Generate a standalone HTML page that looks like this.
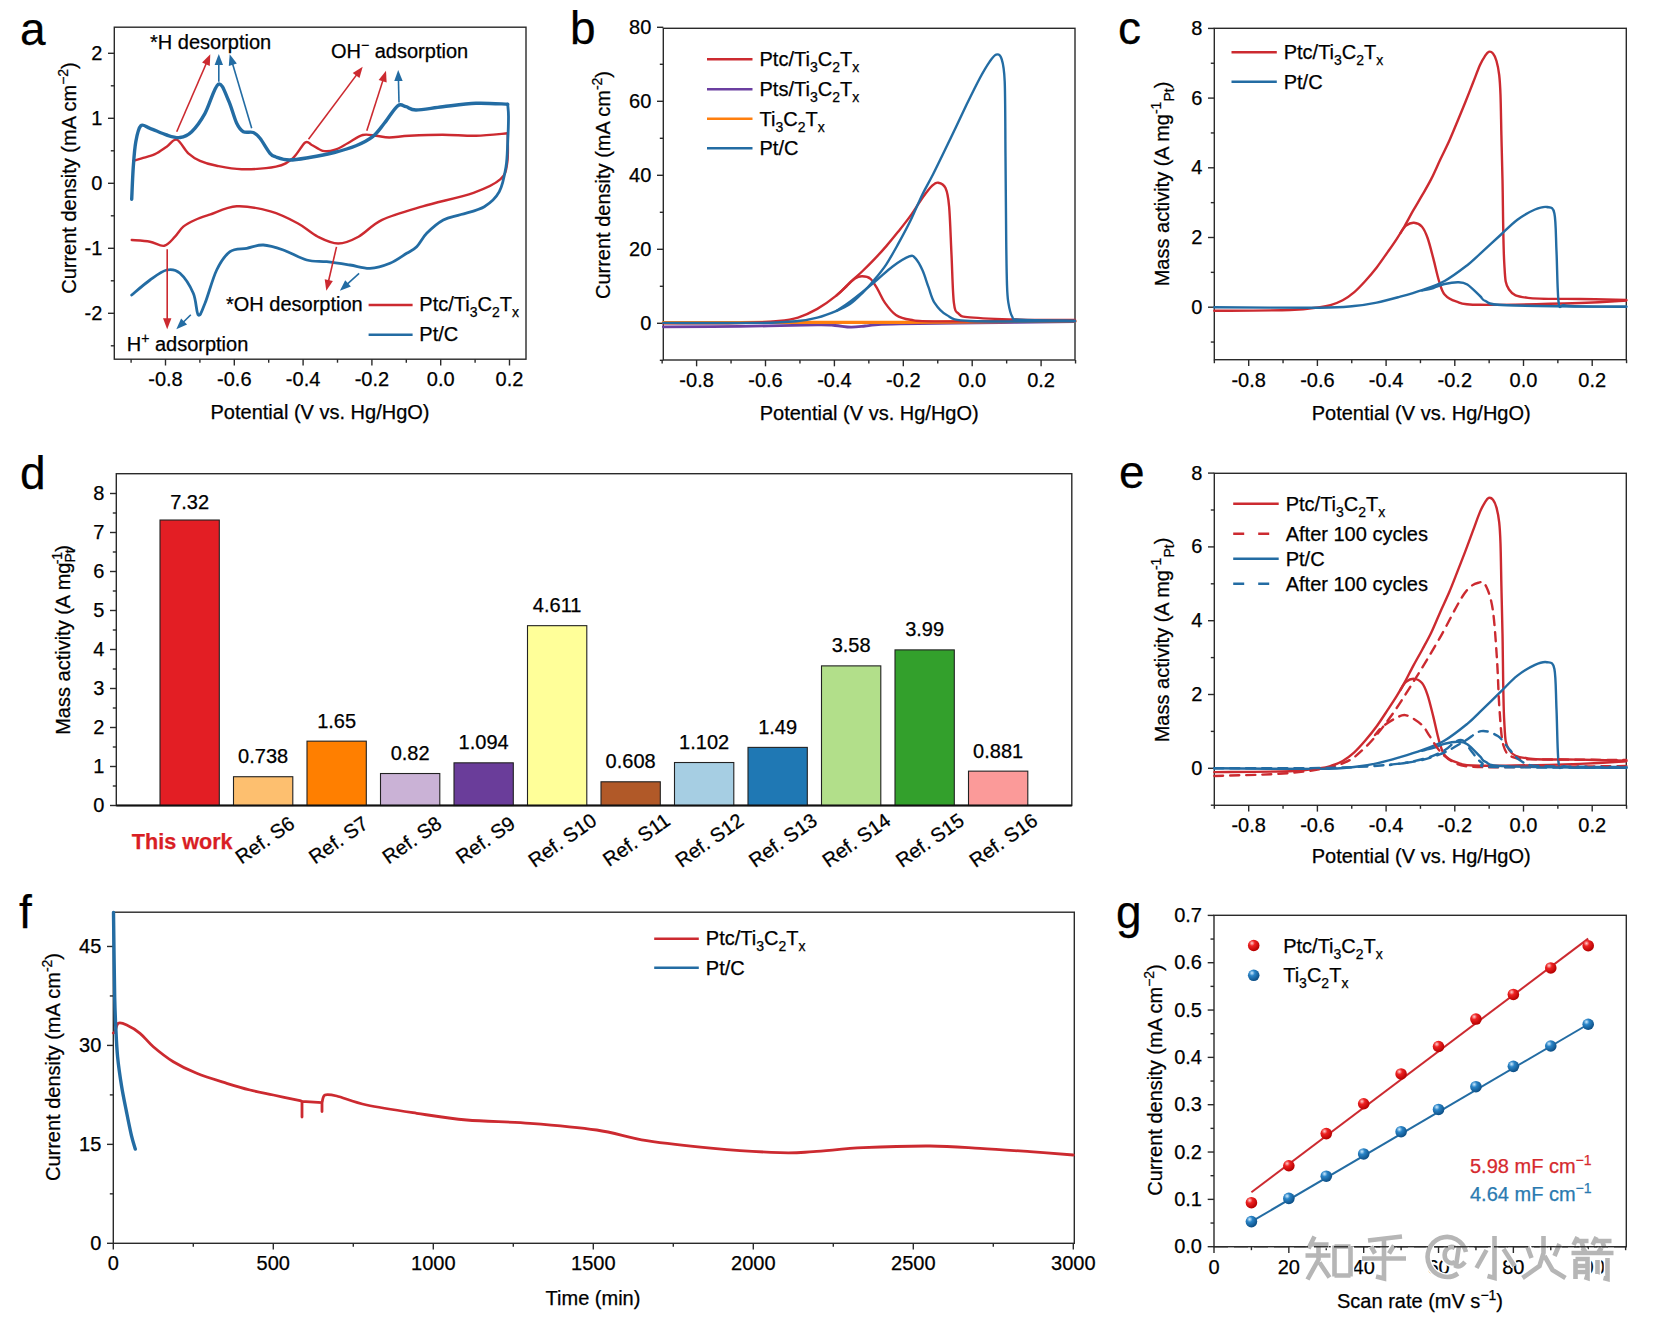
<!DOCTYPE html><html><head><meta charset="utf-8"><style>html,body{margin:0;padding:0;background:#fff;width:1656px;height:1324px;overflow:hidden}svg{display:block;font-family:'Liberation Sans', sans-serif}</style></head><body><svg width="1656" height="1324" viewBox="0 0 1656 1324"><text x="20" y="45" font-size="46" text-anchor="start" fill="#000" stroke="#000" stroke-width="0.25">a</text>
<rect x="114.3" y="27.2" width="411.7" height="332" fill="none" stroke="#2a2a2a" stroke-width="1.4"/>
<line x1="108" y1="53.3" x2="114.3" y2="53.3" stroke="#2a2a2a" stroke-width="1.4" />
<text x="102.3" y="59.8" font-size="20" text-anchor="end" fill="#000" stroke="#000" stroke-width="0.25">2</text>
<line x1="108" y1="118.3" x2="114.3" y2="118.3" stroke="#2a2a2a" stroke-width="1.4" />
<text x="102.3" y="124.8" font-size="20" text-anchor="end" fill="#000" stroke="#000" stroke-width="0.25">1</text>
<line x1="108" y1="183.3" x2="114.3" y2="183.3" stroke="#2a2a2a" stroke-width="1.4" />
<text x="102.3" y="189.8" font-size="20" text-anchor="end" fill="#000" stroke="#000" stroke-width="0.25">0</text>
<line x1="108" y1="248.3" x2="114.3" y2="248.3" stroke="#2a2a2a" stroke-width="1.4" />
<text x="102.3" y="254.8" font-size="20" text-anchor="end" fill="#000" stroke="#000" stroke-width="0.25">-1</text>
<line x1="108" y1="313.3" x2="114.3" y2="313.3" stroke="#2a2a2a" stroke-width="1.4" />
<text x="102.3" y="319.8" font-size="20" text-anchor="end" fill="#000" stroke="#000" stroke-width="0.25">-2</text>
<line x1="110.8" y1="85.8" x2="114.3" y2="85.8" stroke="#2a2a2a" stroke-width="1.4" />
<line x1="110.8" y1="150.8" x2="114.3" y2="150.8" stroke="#2a2a2a" stroke-width="1.4" />
<line x1="110.8" y1="215.8" x2="114.3" y2="215.8" stroke="#2a2a2a" stroke-width="1.4" />
<line x1="110.8" y1="280.8" x2="114.3" y2="280.8" stroke="#2a2a2a" stroke-width="1.4" />
<line x1="110.8" y1="345.8" x2="114.3" y2="345.8" stroke="#2a2a2a" stroke-width="1.4" />
<line x1="165.5" y1="359.2" x2="165.5" y2="365.5" stroke="#2a2a2a" stroke-width="1.4" />
<text x="165.5" y="386" font-size="20" text-anchor="middle" fill="#000" stroke="#000" stroke-width="0.25">-0.8</text>
<line x1="234.3" y1="359.2" x2="234.3" y2="365.5" stroke="#2a2a2a" stroke-width="1.4" />
<text x="234.3" y="386" font-size="20" text-anchor="middle" fill="#000" stroke="#000" stroke-width="0.25">-0.6</text>
<line x1="303.1" y1="359.2" x2="303.1" y2="365.5" stroke="#2a2a2a" stroke-width="1.4" />
<text x="303.1" y="386" font-size="20" text-anchor="middle" fill="#000" stroke="#000" stroke-width="0.25">-0.4</text>
<line x1="371.9" y1="359.2" x2="371.9" y2="365.5" stroke="#2a2a2a" stroke-width="1.4" />
<text x="371.9" y="386" font-size="20" text-anchor="middle" fill="#000" stroke="#000" stroke-width="0.25">-0.2</text>
<line x1="440.7" y1="359.2" x2="440.7" y2="365.5" stroke="#2a2a2a" stroke-width="1.4" />
<text x="440.7" y="386" font-size="20" text-anchor="middle" fill="#000" stroke="#000" stroke-width="0.25">0.0</text>
<line x1="509.5" y1="359.2" x2="509.5" y2="365.5" stroke="#2a2a2a" stroke-width="1.4" />
<text x="509.5" y="386" font-size="20" text-anchor="middle" fill="#000" stroke="#000" stroke-width="0.25">0.2</text>
<line x1="131.1" y1="359.2" x2="131.1" y2="362.7" stroke="#2a2a2a" stroke-width="1.4" />
<line x1="199.9" y1="359.2" x2="199.9" y2="362.7" stroke="#2a2a2a" stroke-width="1.4" />
<line x1="268.7" y1="359.2" x2="268.7" y2="362.7" stroke="#2a2a2a" stroke-width="1.4" />
<line x1="337.5" y1="359.2" x2="337.5" y2="362.7" stroke="#2a2a2a" stroke-width="1.4" />
<line x1="406.3" y1="359.2" x2="406.3" y2="362.7" stroke="#2a2a2a" stroke-width="1.4" />
<line x1="475.1" y1="359.2" x2="475.1" y2="362.7" stroke="#2a2a2a" stroke-width="1.4" />
<text x="0" y="0" font-size="20" text-anchor="middle" fill="#000" stroke="#000" stroke-width="0.25" transform="translate(76,178) rotate(-90)">Current density (mA cm<tspan dy="-8" font-size="14">−2</tspan><tspan dy="8">)</tspan></text>
<text x="320" y="419.3" font-size="20" text-anchor="middle" fill="#000" stroke="#000" stroke-width="0.25">Potential (V vs. Hg/HgO)</text>
<text x="150" y="49.2" font-size="20" text-anchor="start" fill="#000" stroke="#000" stroke-width="0.25">*H desorption</text>
<text x="331" y="58.3" font-size="20" text-anchor="start" fill="#000" stroke="#000" stroke-width="0.25">OH<tspan dy="-8" font-size="14">−</tspan><tspan dy="8"> adsorption</tspan></text>
<text x="226" y="311" font-size="20" text-anchor="start" fill="#000" stroke="#000" stroke-width="0.25">*OH desorption</text>
<text x="126.7" y="350.8" font-size="20" text-anchor="start" fill="#000" stroke="#000" stroke-width="0.25">H<tspan dy="-8" font-size="14">+</tspan><tspan dy="8"> adsorption</tspan></text>
<line x1="368.6" y1="305" x2="412.6" y2="305" stroke="#cc2a30" stroke-width="2.6" />
<line x1="368.6" y1="334.8" x2="412.6" y2="334.8" stroke="#236ca3" stroke-width="2.6" />
<text x="419.3" y="311" font-size="20" text-anchor="start" fill="#000" stroke="#000" stroke-width="0.25">Ptc/Ti<tspan dy="6" font-size="14">3</tspan><tspan dy="-6">C</tspan><tspan dy="6" font-size="14">2</tspan><tspan dy="-6">T</tspan><tspan dy="6" font-size="14">x</tspan></text>
<text x="419.3" y="341" font-size="20" text-anchor="start" fill="#000" stroke="#000" stroke-width="0.25">Pt/C</text>
<path d="M133.3 160.8C134.7 160.38 138.08 159.4 141.7 158.3C145.32 157.2 150.83 156.13 155 154.2C159.17 152.27 163.08 149.12 166.7 146.7C170.32 144.28 173.1 138.6 176.7 139.7C180.3 140.8 184.42 149.78 188.3 153.3C192.18 156.82 195.27 158.72 200 160.8C204.73 162.88 209.75 164.4 216.7 165.8C223.65 167.2 231.82 169.05 241.7 169.2C251.58 169.35 267.5 168.52 276 166.7C284.5 164.88 287.83 162.33 292.7 158.3C297.57 154.27 302.02 144.72 305.2 142.5C308.38 140.28 308.88 143.62 311.8 145C314.72 146.38 318.95 149.97 322.7 150.8C326.45 151.63 330.13 151.25 334.3 150C338.47 148.75 342.97 145.8 347.7 143.3C352.43 140.8 357.98 136.25 362.7 135C367.42 133.75 371.57 135.38 376 135.8C380.43 136.22 383.75 137.5 389.3 137.5C394.85 137.5 400.4 136.27 409.3 135.8C418.2 135.33 431.58 134.7 442.7 134.7C453.82 134.7 465.17 136.03 476 135.8C486.83 135.57 502.42 133.72 507.7 133.3" fill="none" stroke="#cc2a30" stroke-width="2.4" stroke-linejoin="round" stroke-linecap="round" />
<path d="M507.7 133.3C507.63 138.13 508.5 154.65 507.3 162.3C506.1 169.95 506.13 174.12 500.5 179.2C494.87 184.28 486.47 188.28 473.5 192.8C460.53 197.32 437.93 201.8 422.7 206.3C407.47 210.8 392.8 214.73 382.1 219.8C371.4 224.87 365.82 232.75 358.5 236.7C351.18 240.65 344.97 243.5 338.2 243.5C331.43 243.5 324.67 240.08 317.9 236.7C311.13 233.32 305.5 227.42 297.6 223.2C289.7 218.98 280.65 214.22 270.5 211.4C260.35 208.58 246.83 205.75 236.7 206.3C226.57 206.85 216.65 212.42 209.7 214.7C202.75 216.98 199.4 218 195 220C190.6 222 186.63 223.92 183.3 226.7C179.97 229.48 178.18 233.52 175 236.7C171.82 239.88 168.37 244.97 164.2 245.8C160.03 246.63 155.42 242.67 150 241.7C144.58 240.73 134.75 240.28 131.7 240" fill="none" stroke="#cc2a30" stroke-width="2.4" stroke-linejoin="round" stroke-linecap="round" />
<path d="M131.7 199.2C131.97 193.78 132.62 176.28 133.3 166.7C133.98 157.12 134.55 148.52 135.8 141.7C137.05 134.88 138.43 128.03 140.8 125.8C143.17 123.57 145.68 126.77 150 128.3C154.32 129.83 161.7 133.47 166.7 135C171.7 136.53 175.83 138.05 180 137.5C184.17 136.95 187.53 135.73 191.7 131.7C195.87 127.67 200.57 121.22 205 113.3C209.43 105.38 214.42 86.42 218.3 84.2C222.18 81.98 225.23 93.48 228.3 100C231.37 106.52 234.2 118.02 236.7 123.3C239.2 128.58 240.53 130.17 243.3 131.7C246.07 133.23 250.52 131.4 253.3 132.5C256.08 133.6 257.22 134.83 260 138.3C262.78 141.77 267.33 150.18 270 153.3C272.67 156.42 272.78 155.88 276 157C279.22 158.12 283.75 159.92 289.3 160C294.85 160.08 301.8 158.75 309.3 157.5C316.8 156.25 326.52 154.45 334.3 152.5C342.08 150.55 349.6 148.43 356 145.8C362.4 143.17 367.98 140.45 372.7 136.7C377.42 132.95 380.13 128.45 384.3 123.3C388.47 118.15 394.08 108.57 397.7 105.8C401.32 103.03 402.95 106 406 106.7C409.05 107.4 409.88 110 416 110C422.12 110 432.7 107.82 442.7 106.7C452.7 105.58 465.17 103.72 476 103.3C486.83 102.88 502.42 104.05 507.7 104.2" fill="none" stroke="#236ca3" stroke-width="3.4" stroke-linejoin="round" stroke-linecap="round" />
<path d="M507.7 104.2C507.83 106.28 508.5 110.4 508.5 116.7C508.5 123 508.12 133.67 507.7 142C507.28 150.33 507.4 158.42 506 166.7C504.6 174.98 502.92 185.03 499.3 191.7C495.68 198.37 490.68 202.9 484.3 206.7C477.92 210.5 467.83 212.28 461 214.5C454.17 216.72 449.02 216.87 443.3 220C437.58 223.13 431.13 228.85 426.7 233.3C422.27 237.75 420.03 243.37 416.7 246.7C413.37 250.03 411.15 250.53 406.7 253.3C402.25 256.07 396.12 260.8 390 263.3C383.88 265.8 376.67 268.02 370 268.3C363.33 268.58 357.22 266.1 350 265C342.78 263.9 333.92 262.53 326.7 261.7C319.48 260.87 313.93 261.95 306.7 260C299.47 258.05 290.53 252.5 283.3 250C276.07 247.5 269.4 245.28 263.3 245C257.2 244.72 252.25 247.18 246.7 248.3C241.15 249.42 235 248.08 230 251.7C225 255.32 220.87 261.4 216.7 270C212.53 278.6 208.07 295.8 205 303.3C201.93 310.8 200.25 316.67 198.3 315C196.35 313.33 196.35 300.25 193.3 293.3C190.25 286.35 184.43 277.18 180 273.3C175.57 269.42 171.7 268.88 166.7 270C161.7 271.12 155.83 275.83 150 280C144.17 284.17 134.75 292.5 131.7 295" fill="none" stroke="#236ca3" stroke-width="2.8" stroke-linejoin="round" stroke-linecap="round" />
<line x1="176.7" y1="131.7" x2="207.24" y2="61.26" stroke="#cc2a30" stroke-width="1.6" />
<path d="M210.3 54.2 L209.78 65.96 L202.07 62.62 Z" fill="#cc2a30"/>
<line x1="218.8" y1="81.7" x2="218.8" y2="61.7" stroke="#236ca3" stroke-width="1.6" />
<path d="M218.8 54 L223 65 L214.6 65 Z" fill="#236ca3"/>
<line x1="251.7" y1="128.3" x2="231.89" y2="61.58" stroke="#236ca3" stroke-width="1.6" />
<path d="M229.7 54.2 L236.86 63.55 L228.8 65.94 Z" fill="#236ca3"/>
<line x1="308.5" y1="139.2" x2="358.09" y2="72.87" stroke="#cc2a30" stroke-width="1.6" />
<path d="M362.7 66.7 L359.48 78.02 L352.75 73 Z" fill="#cc2a30"/>
<line x1="366.8" y1="130.8" x2="383.65" y2="78.13" stroke="#cc2a30" stroke-width="1.6" />
<path d="M386 70.8 L386.65 82.56 L378.65 80 Z" fill="#cc2a30"/>
<line x1="399" y1="102.5" x2="398.39" y2="77.7" stroke="#236ca3" stroke-width="1.6" />
<path d="M398.2 70 L402.67 80.89 L394.27 81.1 Z" fill="#236ca3"/>
<line x1="167.2" y1="249.2" x2="167.2" y2="321.5" stroke="#cc2a30" stroke-width="1.6" />
<path d="M167.2 329.2 L163 318.2 L171.4 318.2 Z" fill="#cc2a30"/>
<line x1="190.8" y1="314.7" x2="181.74" y2="323.76" stroke="#236ca3" stroke-width="1.6" />
<path d="M176.3 329.2 L181.11 318.45 L187.05 324.39 Z" fill="#236ca3"/>
<line x1="336.5" y1="246.9" x2="328.04" y2="283.3" stroke="#cc2a30" stroke-width="1.6" />
<path d="M326.3 290.8 L324.7 279.13 L332.88 281.04 Z" fill="#cc2a30"/>
<line x1="359.1" y1="273.3" x2="345.59" y2="285.61" stroke="#236ca3" stroke-width="1.6" />
<path d="M339.9 290.8 L345.2 280.29 L350.86 286.49 Z" fill="#236ca3"/>
<text x="570" y="44" font-size="46" text-anchor="start" fill="#000" stroke="#000" stroke-width="0.25">b</text>
<rect x="663.3" y="28.3" width="411.7" height="331.7" fill="none" stroke="#2a2a2a" stroke-width="1.4"/>
<line x1="657" y1="27.3" x2="663.3" y2="27.3" stroke="#2a2a2a" stroke-width="1.4" />
<text x="651.3" y="33.8" font-size="20" text-anchor="end" fill="#000" stroke="#000" stroke-width="0.25">80</text>
<line x1="657" y1="101.3" x2="663.3" y2="101.3" stroke="#2a2a2a" stroke-width="1.4" />
<text x="651.3" y="107.8" font-size="20" text-anchor="end" fill="#000" stroke="#000" stroke-width="0.25">60</text>
<line x1="657" y1="175.3" x2="663.3" y2="175.3" stroke="#2a2a2a" stroke-width="1.4" />
<text x="651.3" y="181.8" font-size="20" text-anchor="end" fill="#000" stroke="#000" stroke-width="0.25">40</text>
<line x1="657" y1="249.3" x2="663.3" y2="249.3" stroke="#2a2a2a" stroke-width="1.4" />
<text x="651.3" y="255.8" font-size="20" text-anchor="end" fill="#000" stroke="#000" stroke-width="0.25">20</text>
<line x1="657" y1="323.3" x2="663.3" y2="323.3" stroke="#2a2a2a" stroke-width="1.4" />
<text x="651.3" y="329.8" font-size="20" text-anchor="end" fill="#000" stroke="#000" stroke-width="0.25">0</text>
<line x1="659.8" y1="64.3" x2="663.3" y2="64.3" stroke="#2a2a2a" stroke-width="1.4" />
<line x1="659.8" y1="138.3" x2="663.3" y2="138.3" stroke="#2a2a2a" stroke-width="1.4" />
<line x1="659.8" y1="212.3" x2="663.3" y2="212.3" stroke="#2a2a2a" stroke-width="1.4" />
<line x1="659.8" y1="286.3" x2="663.3" y2="286.3" stroke="#2a2a2a" stroke-width="1.4" />
<line x1="659.8" y1="360.3" x2="663.3" y2="360.3" stroke="#2a2a2a" stroke-width="1.4" />
<line x1="696.6" y1="360" x2="696.6" y2="366.3" stroke="#2a2a2a" stroke-width="1.4" />
<text x="696.6" y="386.8" font-size="20" text-anchor="middle" fill="#000" stroke="#000" stroke-width="0.25">-0.8</text>
<line x1="765.5" y1="360" x2="765.5" y2="366.3" stroke="#2a2a2a" stroke-width="1.4" />
<text x="765.5" y="386.8" font-size="20" text-anchor="middle" fill="#000" stroke="#000" stroke-width="0.25">-0.6</text>
<line x1="834.4" y1="360" x2="834.4" y2="366.3" stroke="#2a2a2a" stroke-width="1.4" />
<text x="834.4" y="386.8" font-size="20" text-anchor="middle" fill="#000" stroke="#000" stroke-width="0.25">-0.4</text>
<line x1="903.3" y1="360" x2="903.3" y2="366.3" stroke="#2a2a2a" stroke-width="1.4" />
<text x="903.3" y="386.8" font-size="20" text-anchor="middle" fill="#000" stroke="#000" stroke-width="0.25">-0.2</text>
<line x1="972.2" y1="360" x2="972.2" y2="366.3" stroke="#2a2a2a" stroke-width="1.4" />
<text x="972.2" y="386.8" font-size="20" text-anchor="middle" fill="#000" stroke="#000" stroke-width="0.25">0.0</text>
<line x1="1041.1" y1="360" x2="1041.1" y2="366.3" stroke="#2a2a2a" stroke-width="1.4" />
<text x="1041.1" y="386.8" font-size="20" text-anchor="middle" fill="#000" stroke="#000" stroke-width="0.25">0.2</text>
<line x1="662.15" y1="360" x2="662.15" y2="363.5" stroke="#2a2a2a" stroke-width="1.4" />
<line x1="731.05" y1="360" x2="731.05" y2="363.5" stroke="#2a2a2a" stroke-width="1.4" />
<line x1="799.95" y1="360" x2="799.95" y2="363.5" stroke="#2a2a2a" stroke-width="1.4" />
<line x1="868.85" y1="360" x2="868.85" y2="363.5" stroke="#2a2a2a" stroke-width="1.4" />
<line x1="937.75" y1="360" x2="937.75" y2="363.5" stroke="#2a2a2a" stroke-width="1.4" />
<line x1="1006.65" y1="360" x2="1006.65" y2="363.5" stroke="#2a2a2a" stroke-width="1.4" />
<line x1="1075.55" y1="360" x2="1075.55" y2="363.5" stroke="#2a2a2a" stroke-width="1.4" />
<text x="0" y="0" font-size="20" text-anchor="middle" fill="#000" stroke="#000" stroke-width="0.25" transform="translate(610,185) rotate(-90)">Current density (mA cm<tspan dy="-8" font-size="14">-2</tspan><tspan dy="8">)</tspan></text>
<text x="869.2" y="420" font-size="20" text-anchor="middle" fill="#000" stroke="#000" stroke-width="0.25">Potential (V vs. Hg/HgO)</text>
<line x1="707" y1="59.2" x2="752.5" y2="59.2" stroke="#cc2a30" stroke-width="2.6" />
<text x="759.5" y="66.2" font-size="20" text-anchor="start" fill="#000" stroke="#000" stroke-width="0.25">Ptc/Ti<tspan dy="6" font-size="14">3</tspan><tspan dy="-6">C</tspan><tspan dy="6" font-size="14">2</tspan><tspan dy="-6">T</tspan><tspan dy="6" font-size="14">x</tspan></text>
<line x1="707" y1="89.2" x2="752.5" y2="89.2" stroke="#6b3fa0" stroke-width="2.6" />
<text x="759.5" y="96.2" font-size="20" text-anchor="start" fill="#000" stroke="#000" stroke-width="0.25">Pts/Ti<tspan dy="6" font-size="14">3</tspan><tspan dy="-6">C</tspan><tspan dy="6" font-size="14">2</tspan><tspan dy="-6">T</tspan><tspan dy="6" font-size="14">x</tspan></text>
<line x1="707" y1="118.8" x2="752.5" y2="118.8" stroke="#ff7f0e" stroke-width="2.6" />
<text x="759.5" y="125.8" font-size="20" text-anchor="start" fill="#000" stroke="#000" stroke-width="0.25">Ti<tspan dy="6" font-size="14">3</tspan><tspan dy="-6">C</tspan><tspan dy="6" font-size="14">2</tspan><tspan dy="-6">T</tspan><tspan dy="6" font-size="14">x</tspan></text>
<line x1="707" y1="148.3" x2="752.5" y2="148.3" stroke="#236ca3" stroke-width="2.6" />
<text x="759.5" y="155.3" font-size="20" text-anchor="start" fill="#000" stroke="#000" stroke-width="0.25">Pt/C</text>
<path d="M663.3 326.8C676.08 326.73 714.33 326.73 740 326.4C765.67 326.07 801.47 324.95 817.3 324.8C833.13 324.65 829.38 325.1 835 325.5C840.62 325.9 846 327.12 851 327.2C856 327.28 860.95 326.4 865 326C869.05 325.6 869.47 325.15 875.3 324.8C881.13 324.45 879.22 324.28 900 323.9C920.78 323.52 970.83 322.9 1000 322.5C1029.17 322.1 1062.5 321.67 1075 321.5" fill="none" stroke="#6b3fa0" stroke-width="2.8" stroke-linejoin="round" stroke-linecap="round" />
<path d="M663.3 322.6C686.08 322.57 760.55 322.45 800 322.4C839.45 322.35 866.67 322.43 900 322.3C933.33 322.17 970.83 321.82 1000 321.6C1029.17 321.38 1062.5 321.1 1075 321" fill="none" stroke="#ff7f0e" stroke-width="3.2" stroke-linejoin="round" stroke-linecap="round" />
<path d="M663.3 323.3C676.08 323.27 720.78 323.48 740 323.1C759.22 322.72 768.93 321.92 778.6 321C788.27 320.08 791.55 319.62 798 317.6C804.45 315.58 810.87 312.6 817.3 308.9C823.73 305.2 831.15 299.82 836.6 295.4C842.05 290.98 845.75 286.38 850 282.4C854.25 278.42 858.07 275.33 862.1 271.5C866.13 267.67 870.17 263.63 874.2 259.4C878.23 255.17 882.28 250.73 886.3 246.1C890.32 241.47 894.28 236.63 898.3 231.6C902.32 226.57 906.37 221.53 910.4 215.9C914.43 210.27 918.87 202.83 922.5 197.8C926.13 192.77 929.58 188.22 932.2 185.7C934.82 183.18 935.98 182.3 938.2 182.7C940.42 183.1 943.68 184.17 945.5 188.1C947.32 192.03 948.1 195.22 949.1 206.3C950.1 217.38 950.7 238.5 951.5 254.6C952.3 270.7 952.68 293.03 953.9 302.9C955.12 312.77 956.12 311.38 958.8 313.8C961.48 316.22 959.8 316.43 970 317.4C980.2 318.37 1002.5 319.17 1020 319.6C1037.5 320.03 1065.83 319.93 1075 320" fill="none" stroke="#cc2a30" stroke-width="2.4" stroke-linejoin="round" stroke-linecap="round" />
<path d="M1075 321C1052.38 321.07 966.73 321.6 939.3 321.4C911.87 321.2 917.63 320.87 910.4 319.8C903.17 318.73 900.13 317.82 895.9 315C891.67 312.18 888.02 307.13 885 302.9C881.98 298.67 880.22 293.62 877.8 289.6C875.38 285.58 873.12 281.02 870.5 278.8C867.88 276.58 864.68 276.35 862.1 276.3C859.52 276.25 857.63 276.8 855 278.5C852.37 280.2 849.37 283.68 846.3 286.5C843.23 289.32 838.22 293.92 836.6 295.4" fill="none" stroke="#cc2a30" stroke-width="2.4" stroke-linejoin="round" stroke-linecap="round" />
<path d="M663.3 322.9C679.42 322.9 737.55 323.22 760 322.9C782.45 322.58 788.45 321.88 798 321C807.55 320.12 810.87 319.3 817.3 317.6C823.73 315.9 831.15 313.05 836.6 310.8C842.05 308.55 845.75 307.02 850 304.1C854.25 301.18 858.07 297.32 862.1 293.3C866.13 289.28 870.17 284.83 874.2 280C878.23 275.17 882.28 270.35 886.3 264.3C890.32 258.25 894.28 250.95 898.3 243.7C902.32 236.45 906.37 229.05 910.4 220.8C914.43 212.55 918.7 202 922.5 194.2C926.3 186.4 928.63 183.08 933.2 174C937.77 164.92 944.35 151.23 949.9 139.7C955.45 128.17 961.52 115.05 966.5 104.8C971.48 94.55 975.93 85.4 979.8 78.2C983.67 71 986.98 65.53 989.7 61.6C992.42 57.67 994.15 55.15 996.1 54.6C998.05 54.05 999.97 53.82 1001.4 58.3C1002.83 62.78 1004.02 65.17 1004.7 81.5C1005.38 97.83 1005.25 129.88 1005.5 156.3C1005.75 182.72 1005.95 218.55 1006.2 240C1006.45 261.45 1006.65 274.6 1007 285C1007.35 295.4 1007.43 297.13 1008.3 302.4C1009.17 307.67 1010.25 313.7 1012.2 316.6C1014.15 319.5 1009.53 319.13 1020 319.8C1030.47 320.47 1065.83 320.47 1075 320.6" fill="none" stroke="#236ca3" stroke-width="2.4" stroke-linejoin="round" stroke-linecap="round" />
<path d="M1075 321.2C1057.5 321.17 991.38 322.03 970 321C948.62 319.97 952.6 318.02 946.7 315C940.8 311.98 937.63 307.53 934.6 302.9C931.57 298.27 930.52 292.63 928.5 287.2C926.48 281.77 924.7 275.13 922.5 270.3C920.3 265.47 917.52 260.52 915.3 258.2C913.08 255.88 913.03 254.98 909.2 256.4C905.37 257.82 898.13 262.37 892.3 266.7C886.47 271.03 881.25 276.57 874.2 282.4C867.15 288.23 856.27 296.97 850 301.7C843.73 306.43 838.83 309.28 836.6 310.8" fill="none" stroke="#236ca3" stroke-width="2.4" stroke-linejoin="round" stroke-linecap="round" />
<text x="1118" y="44" font-size="46" text-anchor="start" fill="#000" stroke="#000" stroke-width="0.25">c</text>
<rect x="1214.3" y="28.3" width="412" height="331.4" fill="none" stroke="#2a2a2a" stroke-width="1.4"/>
<line x1="1208" y1="28.4" x2="1214.3" y2="28.4" stroke="#2a2a2a" stroke-width="1.4" />
<text x="1202.3" y="34.9" font-size="20" text-anchor="end" fill="#000" stroke="#000" stroke-width="0.25">8</text>
<line x1="1208" y1="98.1" x2="1214.3" y2="98.1" stroke="#2a2a2a" stroke-width="1.4" />
<text x="1202.3" y="104.6" font-size="20" text-anchor="end" fill="#000" stroke="#000" stroke-width="0.25">6</text>
<line x1="1208" y1="167.8" x2="1214.3" y2="167.8" stroke="#2a2a2a" stroke-width="1.4" />
<text x="1202.3" y="174.3" font-size="20" text-anchor="end" fill="#000" stroke="#000" stroke-width="0.25">4</text>
<line x1="1208" y1="237.5" x2="1214.3" y2="237.5" stroke="#2a2a2a" stroke-width="1.4" />
<text x="1202.3" y="244" font-size="20" text-anchor="end" fill="#000" stroke="#000" stroke-width="0.25">2</text>
<line x1="1208" y1="307.2" x2="1214.3" y2="307.2" stroke="#2a2a2a" stroke-width="1.4" />
<text x="1202.3" y="313.7" font-size="20" text-anchor="end" fill="#000" stroke="#000" stroke-width="0.25">0</text>
<line x1="1210.8" y1="63.25" x2="1214.3" y2="63.25" stroke="#2a2a2a" stroke-width="1.4" />
<line x1="1210.8" y1="132.95" x2="1214.3" y2="132.95" stroke="#2a2a2a" stroke-width="1.4" />
<line x1="1210.8" y1="202.65" x2="1214.3" y2="202.65" stroke="#2a2a2a" stroke-width="1.4" />
<line x1="1210.8" y1="272.35" x2="1214.3" y2="272.35" stroke="#2a2a2a" stroke-width="1.4" />
<line x1="1210.8" y1="342.05" x2="1214.3" y2="342.05" stroke="#2a2a2a" stroke-width="1.4" />
<line x1="1248.7" y1="359.7" x2="1248.7" y2="366" stroke="#2a2a2a" stroke-width="1.4" />
<text x="1248.7" y="386.5" font-size="20" text-anchor="middle" fill="#000" stroke="#000" stroke-width="0.25">-0.8</text>
<line x1="1317.4" y1="359.7" x2="1317.4" y2="366" stroke="#2a2a2a" stroke-width="1.4" />
<text x="1317.4" y="386.5" font-size="20" text-anchor="middle" fill="#000" stroke="#000" stroke-width="0.25">-0.6</text>
<line x1="1386.1" y1="359.7" x2="1386.1" y2="366" stroke="#2a2a2a" stroke-width="1.4" />
<text x="1386.1" y="386.5" font-size="20" text-anchor="middle" fill="#000" stroke="#000" stroke-width="0.25">-0.4</text>
<line x1="1454.8" y1="359.7" x2="1454.8" y2="366" stroke="#2a2a2a" stroke-width="1.4" />
<text x="1454.8" y="386.5" font-size="20" text-anchor="middle" fill="#000" stroke="#000" stroke-width="0.25">-0.2</text>
<line x1="1523.5" y1="359.7" x2="1523.5" y2="366" stroke="#2a2a2a" stroke-width="1.4" />
<text x="1523.5" y="386.5" font-size="20" text-anchor="middle" fill="#000" stroke="#000" stroke-width="0.25">0.0</text>
<line x1="1592.2" y1="359.7" x2="1592.2" y2="366" stroke="#2a2a2a" stroke-width="1.4" />
<text x="1592.2" y="386.5" font-size="20" text-anchor="middle" fill="#000" stroke="#000" stroke-width="0.25">0.2</text>
<line x1="1214.35" y1="359.7" x2="1214.35" y2="363.2" stroke="#2a2a2a" stroke-width="1.4" />
<line x1="1283.05" y1="359.7" x2="1283.05" y2="363.2" stroke="#2a2a2a" stroke-width="1.4" />
<line x1="1351.75" y1="359.7" x2="1351.75" y2="363.2" stroke="#2a2a2a" stroke-width="1.4" />
<line x1="1420.45" y1="359.7" x2="1420.45" y2="363.2" stroke="#2a2a2a" stroke-width="1.4" />
<line x1="1489.15" y1="359.7" x2="1489.15" y2="363.2" stroke="#2a2a2a" stroke-width="1.4" />
<line x1="1557.85" y1="359.7" x2="1557.85" y2="363.2" stroke="#2a2a2a" stroke-width="1.4" />
<line x1="1626.55" y1="359.7" x2="1626.55" y2="363.2" stroke="#2a2a2a" stroke-width="1.4" />
<text x="0" y="0" font-size="20" text-anchor="middle" fill="#000" stroke="#000" stroke-width="0.25" transform="translate(1169,184) rotate(-90)">Mass activity (A mg<tspan dy="-8" font-size="14">-1</tspan><tspan dy="13" font-size="14">Pt</tspan><tspan dy="-5">)</tspan></text>
<text x="1421.2" y="420" font-size="20" text-anchor="middle" fill="#000" stroke="#000" stroke-width="0.25">Potential (V vs. Hg/HgO)</text>
<line x1="1231.5" y1="52.2" x2="1276.8" y2="52.2" stroke="#cc2a30" stroke-width="2.6" />
<text x="1283.7" y="59.2" font-size="20" text-anchor="start" fill="#000" stroke="#000" stroke-width="0.25">Ptc/Ti<tspan dy="6" font-size="14">3</tspan><tspan dy="-6">C</tspan><tspan dy="6" font-size="14">2</tspan><tspan dy="-6">T</tspan><tspan dy="6" font-size="14">x</tspan></text>
<line x1="1231.5" y1="81.7" x2="1276.8" y2="81.7" stroke="#236ca3" stroke-width="2.6" />
<text x="1283.7" y="88.7" font-size="20" text-anchor="start" fill="#000" stroke="#000" stroke-width="0.25">Pt/C</text>
<path d="M1214.3 310.8C1226.92 310.67 1272.38 310.62 1290 310C1307.62 309.38 1313.12 307.97 1320 307.1C1326.88 306.23 1327.52 305.93 1331.3 304.8C1335.08 303.67 1338.92 302.37 1342.7 300.3C1346.48 298.23 1350.23 295.62 1354 292.4C1357.77 289.18 1361.52 285.15 1365.3 281C1369.08 276.85 1372.92 272.4 1376.7 267.5C1380.48 262.6 1384.65 256.38 1388 251.6C1391.35 246.82 1394.12 242.9 1396.8 238.8C1399.48 234.7 1401.38 231.68 1404.1 227C1406.82 222.32 1410.08 216 1413.1 210.7C1416.12 205.4 1419.17 200.5 1422.2 195.2C1425.23 189.9 1428.28 184.85 1431.3 178.9C1434.32 172.95 1437.28 165.9 1440.3 159.5C1443.32 153.1 1446.52 146.92 1449.4 140.5C1452.28 134.08 1455 127.25 1457.6 121C1460.2 114.75 1462.45 109.33 1465 103C1467.55 96.67 1470.4 89.33 1472.9 83C1475.4 76.67 1477.98 69.5 1480 65C1482.02 60.5 1483.55 58.2 1485 56C1486.45 53.8 1487.37 52.22 1488.7 51.8C1490.03 51.38 1491.7 51.97 1493 53.5C1494.3 55.03 1495.47 57.42 1496.5 61C1497.53 64.58 1498.53 69.33 1499.2 75C1499.87 80.67 1500.13 84.98 1500.5 95C1500.87 105.02 1501.07 120.93 1501.4 135.1C1501.73 149.27 1502.03 158.85 1502.5 180C1502.97 201.15 1503.12 243.75 1504.2 262C1505.28 280.25 1505.03 283.52 1509 289.5C1512.97 295.48 1516.17 296.32 1528 297.9C1539.83 299.48 1563.62 298.65 1580 299C1596.38 299.35 1618.58 299.83 1626.3 300" fill="none" stroke="#cc2a30" stroke-width="2.4" stroke-linejoin="round" stroke-linecap="round" />
<path d="M1626.3 300.5C1618.58 300.92 1604.38 302.28 1580 303C1555.62 303.72 1500.67 305.07 1480 304.8C1459.33 304.53 1461.9 303.1 1456 301.4C1450.1 299.7 1447.43 298 1444.6 294.6C1441.77 291.2 1440.88 287.03 1439 281C1437.12 274.97 1435.2 265.57 1433.3 258.4C1431.4 251.23 1429.48 243.28 1427.6 238C1425.72 232.72 1424.27 229.25 1422 226.7C1419.73 224.15 1416.65 222.9 1414 222.7C1411.35 222.5 1408.35 223.78 1406.1 225.5C1403.85 227.22 1401.43 231.75 1400.5 233" fill="none" stroke="#cc2a30" stroke-width="2.4" stroke-linejoin="round" stroke-linecap="round" />
<path d="M1214.3 307.2C1231.92 307.28 1296.72 307.9 1320 307.7C1343.28 307.5 1344.55 306.85 1354 306C1363.45 305.15 1369.15 304.12 1376.7 302.6C1384.25 301.08 1391.75 298.98 1399.3 296.9C1406.85 294.82 1414.45 292.75 1422 290.1C1429.55 287.45 1437.05 285.15 1444.6 281C1452.15 276.85 1461.4 269.72 1467.3 265.2C1473.2 260.68 1474.55 258.85 1480 253.9C1485.45 248.95 1493.77 241.2 1500 235.5C1506.23 229.8 1511.57 224.03 1517.4 219.7C1523.23 215.37 1530.07 211.62 1535 209.5C1539.93 207.38 1543.77 206.35 1547 207C1550.23 207.65 1552.82 206 1554.4 213.4C1555.98 220.8 1555.8 236.6 1556.5 251.4C1557.2 266.2 1557.37 293.22 1558.6 302.2C1559.83 311.18 1560.33 304.6 1563.9 305.3C1567.47 306 1569.6 306.18 1580 306.4C1590.4 306.62 1618.58 306.57 1626.3 306.6" fill="none" stroke="#236ca3" stroke-width="2.4" stroke-linejoin="round" stroke-linecap="round" />
<path d="M1626.3 306.8C1606.38 306.55 1530.23 306.25 1506.8 305.3C1483.37 304.35 1490.17 302.65 1485.7 301.1C1481.23 299.55 1483.07 298.77 1480 296C1476.93 293.23 1470.93 286.8 1467.3 284.5C1463.67 282.2 1461.98 282.28 1458.2 282.2C1454.42 282.12 1448.75 283.03 1444.6 284C1440.45 284.97 1437.07 286.9 1433.3 288C1429.53 289.1 1423.88 290.17 1422 290.6" fill="none" stroke="#236ca3" stroke-width="2.4" stroke-linejoin="round" stroke-linecap="round" />
<text x="20" y="488.7" font-size="46" text-anchor="start" fill="#000" stroke="#000" stroke-width="0.25">d</text>
<rect x="116.3" y="473.7" width="955.5" height="331.8" fill="none" stroke="#2a2a2a" stroke-width="1.4"/>
<line x1="110" y1="805.5" x2="116.3" y2="805.5" stroke="#2a2a2a" stroke-width="1.4" />
<text x="104.3" y="812" font-size="20" text-anchor="end" fill="#000" stroke="#000" stroke-width="0.25">0</text>
<line x1="110" y1="766.5" x2="116.3" y2="766.5" stroke="#2a2a2a" stroke-width="1.4" />
<text x="104.3" y="773" font-size="20" text-anchor="end" fill="#000" stroke="#000" stroke-width="0.25">1</text>
<line x1="110" y1="727.5" x2="116.3" y2="727.5" stroke="#2a2a2a" stroke-width="1.4" />
<text x="104.3" y="734" font-size="20" text-anchor="end" fill="#000" stroke="#000" stroke-width="0.25">2</text>
<line x1="110" y1="688.5" x2="116.3" y2="688.5" stroke="#2a2a2a" stroke-width="1.4" />
<text x="104.3" y="695" font-size="20" text-anchor="end" fill="#000" stroke="#000" stroke-width="0.25">3</text>
<line x1="110" y1="649.5" x2="116.3" y2="649.5" stroke="#2a2a2a" stroke-width="1.4" />
<text x="104.3" y="656" font-size="20" text-anchor="end" fill="#000" stroke="#000" stroke-width="0.25">4</text>
<line x1="110" y1="610.5" x2="116.3" y2="610.5" stroke="#2a2a2a" stroke-width="1.4" />
<text x="104.3" y="617" font-size="20" text-anchor="end" fill="#000" stroke="#000" stroke-width="0.25">5</text>
<line x1="110" y1="571.5" x2="116.3" y2="571.5" stroke="#2a2a2a" stroke-width="1.4" />
<text x="104.3" y="578" font-size="20" text-anchor="end" fill="#000" stroke="#000" stroke-width="0.25">6</text>
<line x1="110" y1="532.5" x2="116.3" y2="532.5" stroke="#2a2a2a" stroke-width="1.4" />
<text x="104.3" y="539" font-size="20" text-anchor="end" fill="#000" stroke="#000" stroke-width="0.25">7</text>
<line x1="110" y1="493.5" x2="116.3" y2="493.5" stroke="#2a2a2a" stroke-width="1.4" />
<text x="104.3" y="500" font-size="20" text-anchor="end" fill="#000" stroke="#000" stroke-width="0.25">8</text>
<line x1="112.8" y1="786" x2="116.3" y2="786" stroke="#2a2a2a" stroke-width="1.4" />
<line x1="112.8" y1="747" x2="116.3" y2="747" stroke="#2a2a2a" stroke-width="1.4" />
<line x1="112.8" y1="708" x2="116.3" y2="708" stroke="#2a2a2a" stroke-width="1.4" />
<line x1="112.8" y1="669" x2="116.3" y2="669" stroke="#2a2a2a" stroke-width="1.4" />
<line x1="112.8" y1="630" x2="116.3" y2="630" stroke="#2a2a2a" stroke-width="1.4" />
<line x1="112.8" y1="591" x2="116.3" y2="591" stroke="#2a2a2a" stroke-width="1.4" />
<line x1="112.8" y1="552" x2="116.3" y2="552" stroke="#2a2a2a" stroke-width="1.4" />
<line x1="112.8" y1="513" x2="116.3" y2="513" stroke="#2a2a2a" stroke-width="1.4" />
<text x="0" y="0" font-size="20" text-anchor="middle" fill="#000" stroke="#000" stroke-width="0.25" transform="translate(69.5,640) rotate(-90)">Mass activity (A mg<tspan dy="5" font-size="14">Pt</tspan><tspan dy="-13" dx="-15" font-size="14">-1</tspan><tspan dy="8">)</tspan></text>
<rect x="160" y="520.02" width="59.3" height="285.48" fill="#e31e24" stroke="#222" stroke-width="1.1"/>
<text x="189.65" y="509.02" font-size="20" text-anchor="middle" fill="#000" stroke="#000" stroke-width="0.25">7.32</text>
<text x="182.2" y="848.5" font-size="21.6" text-anchor="middle" fill="#d91e24" stroke="#d91e24" stroke-width="0.25" font-weight="bold">This work</text>
<rect x="233.5" y="776.72" width="59.3" height="28.78" fill="#fdbf6f" stroke="#222" stroke-width="1.1"/>
<text x="263.15" y="763.22" font-size="20" text-anchor="middle" fill="#000" stroke="#000" stroke-width="0.25">0.738</text>
<text x="0" y="0" font-size="20" text-anchor="end" fill="#000" stroke="#000" stroke-width="0.25" transform="translate(296.15,826.5) rotate(-35)">Ref. S6</text>
<rect x="307" y="741.15" width="59.3" height="64.35" fill="#ff7f00" stroke="#222" stroke-width="1.1"/>
<text x="336.65" y="727.65" font-size="20" text-anchor="middle" fill="#000" stroke="#000" stroke-width="0.25">1.65</text>
<text x="0" y="0" font-size="20" text-anchor="end" fill="#000" stroke="#000" stroke-width="0.25" transform="translate(369.65,826.5) rotate(-35)">Ref. S7</text>
<rect x="380.5" y="773.52" width="59.3" height="31.98" fill="#cab2d6" stroke="#222" stroke-width="1.1"/>
<text x="410.15" y="760.02" font-size="20" text-anchor="middle" fill="#000" stroke="#000" stroke-width="0.25">0.82</text>
<text x="0" y="0" font-size="20" text-anchor="end" fill="#000" stroke="#000" stroke-width="0.25" transform="translate(443.15,826.5) rotate(-35)">Ref. S8</text>
<rect x="454" y="762.83" width="59.3" height="42.67" fill="#6a3d9a" stroke="#222" stroke-width="1.1"/>
<text x="483.65" y="749.33" font-size="20" text-anchor="middle" fill="#000" stroke="#000" stroke-width="0.25">1.094</text>
<text x="0" y="0" font-size="20" text-anchor="end" fill="#000" stroke="#000" stroke-width="0.25" transform="translate(516.65,826.5) rotate(-35)">Ref. S9</text>
<rect x="527.5" y="625.67" width="59.3" height="179.83" fill="#ffff99" stroke="#222" stroke-width="1.1"/>
<text x="557.15" y="612.17" font-size="20" text-anchor="middle" fill="#000" stroke="#000" stroke-width="0.25">4.611</text>
<text x="0" y="0" font-size="20" text-anchor="end" fill="#000" stroke="#000" stroke-width="0.25" transform="translate(598.15,823.5) rotate(-35)">Ref. S10</text>
<rect x="601" y="781.79" width="59.3" height="23.71" fill="#b15928" stroke="#222" stroke-width="1.1"/>
<text x="630.65" y="768.29" font-size="20" text-anchor="middle" fill="#000" stroke="#000" stroke-width="0.25">0.608</text>
<text x="0" y="0" font-size="20" text-anchor="end" fill="#000" stroke="#000" stroke-width="0.25" transform="translate(671.65,823.5) rotate(-35)">Ref. S11</text>
<rect x="674.5" y="762.52" width="59.3" height="42.98" fill="#a6cee3" stroke="#222" stroke-width="1.1"/>
<text x="704.15" y="749.02" font-size="20" text-anchor="middle" fill="#000" stroke="#000" stroke-width="0.25">1.102</text>
<text x="0" y="0" font-size="20" text-anchor="end" fill="#000" stroke="#000" stroke-width="0.25" transform="translate(745.15,823.5) rotate(-35)">Ref. S12</text>
<rect x="748" y="747.39" width="59.3" height="58.11" fill="#1f78b4" stroke="#222" stroke-width="1.1"/>
<text x="777.65" y="733.89" font-size="20" text-anchor="middle" fill="#000" stroke="#000" stroke-width="0.25">1.49</text>
<text x="0" y="0" font-size="20" text-anchor="end" fill="#000" stroke="#000" stroke-width="0.25" transform="translate(818.65,823.5) rotate(-35)">Ref. S13</text>
<rect x="821.5" y="665.88" width="59.3" height="139.62" fill="#b2df8a" stroke="#222" stroke-width="1.1"/>
<text x="851.15" y="652.38" font-size="20" text-anchor="middle" fill="#000" stroke="#000" stroke-width="0.25">3.58</text>
<text x="0" y="0" font-size="20" text-anchor="end" fill="#000" stroke="#000" stroke-width="0.25" transform="translate(892.15,823.5) rotate(-35)">Ref. S14</text>
<rect x="895" y="649.89" width="59.3" height="155.61" fill="#33a02c" stroke="#222" stroke-width="1.1"/>
<text x="924.65" y="636.39" font-size="20" text-anchor="middle" fill="#000" stroke="#000" stroke-width="0.25">3.99</text>
<text x="0" y="0" font-size="20" text-anchor="end" fill="#000" stroke="#000" stroke-width="0.25" transform="translate(965.65,823.5) rotate(-35)">Ref. S15</text>
<rect x="968.5" y="771.14" width="59.3" height="34.36" fill="#fb9a99" stroke="#222" stroke-width="1.1"/>
<text x="998.15" y="757.64" font-size="20" text-anchor="middle" fill="#000" stroke="#000" stroke-width="0.25">0.881</text>
<text x="0" y="0" font-size="20" text-anchor="end" fill="#000" stroke="#000" stroke-width="0.25" transform="translate(1039.15,823.5) rotate(-35)">Ref. S16</text>
<line x1="116.3" y1="805.5" x2="1071.8" y2="805.5" stroke="#111" stroke-width="2" />
<text x="1119" y="488.3" font-size="46" text-anchor="start" fill="#000" stroke="#000" stroke-width="0.25">e</text>
<rect x="1214.3" y="473.3" width="412" height="332" fill="none" stroke="#2a2a2a" stroke-width="1.4"/>
<line x1="1208" y1="473.1" x2="1214.3" y2="473.1" stroke="#2a2a2a" stroke-width="1.4" />
<text x="1202.3" y="479.6" font-size="20" text-anchor="end" fill="#000" stroke="#000" stroke-width="0.25">8</text>
<line x1="1208" y1="546.9" x2="1214.3" y2="546.9" stroke="#2a2a2a" stroke-width="1.4" />
<text x="1202.3" y="553.4" font-size="20" text-anchor="end" fill="#000" stroke="#000" stroke-width="0.25">6</text>
<line x1="1208" y1="620.7" x2="1214.3" y2="620.7" stroke="#2a2a2a" stroke-width="1.4" />
<text x="1202.3" y="627.2" font-size="20" text-anchor="end" fill="#000" stroke="#000" stroke-width="0.25">4</text>
<line x1="1208" y1="694.5" x2="1214.3" y2="694.5" stroke="#2a2a2a" stroke-width="1.4" />
<text x="1202.3" y="701" font-size="20" text-anchor="end" fill="#000" stroke="#000" stroke-width="0.25">2</text>
<line x1="1208" y1="768.3" x2="1214.3" y2="768.3" stroke="#2a2a2a" stroke-width="1.4" />
<text x="1202.3" y="774.8" font-size="20" text-anchor="end" fill="#000" stroke="#000" stroke-width="0.25">0</text>
<line x1="1210.8" y1="510" x2="1214.3" y2="510" stroke="#2a2a2a" stroke-width="1.4" />
<line x1="1210.8" y1="583.8" x2="1214.3" y2="583.8" stroke="#2a2a2a" stroke-width="1.4" />
<line x1="1210.8" y1="657.6" x2="1214.3" y2="657.6" stroke="#2a2a2a" stroke-width="1.4" />
<line x1="1210.8" y1="731.4" x2="1214.3" y2="731.4" stroke="#2a2a2a" stroke-width="1.4" />
<line x1="1210.8" y1="805.2" x2="1214.3" y2="805.2" stroke="#2a2a2a" stroke-width="1.4" />
<line x1="1248.7" y1="805.3" x2="1248.7" y2="811.6" stroke="#2a2a2a" stroke-width="1.4" />
<text x="1248.7" y="832.1" font-size="20" text-anchor="middle" fill="#000" stroke="#000" stroke-width="0.25">-0.8</text>
<line x1="1317.4" y1="805.3" x2="1317.4" y2="811.6" stroke="#2a2a2a" stroke-width="1.4" />
<text x="1317.4" y="832.1" font-size="20" text-anchor="middle" fill="#000" stroke="#000" stroke-width="0.25">-0.6</text>
<line x1="1386.1" y1="805.3" x2="1386.1" y2="811.6" stroke="#2a2a2a" stroke-width="1.4" />
<text x="1386.1" y="832.1" font-size="20" text-anchor="middle" fill="#000" stroke="#000" stroke-width="0.25">-0.4</text>
<line x1="1454.8" y1="805.3" x2="1454.8" y2="811.6" stroke="#2a2a2a" stroke-width="1.4" />
<text x="1454.8" y="832.1" font-size="20" text-anchor="middle" fill="#000" stroke="#000" stroke-width="0.25">-0.2</text>
<line x1="1523.5" y1="805.3" x2="1523.5" y2="811.6" stroke="#2a2a2a" stroke-width="1.4" />
<text x="1523.5" y="832.1" font-size="20" text-anchor="middle" fill="#000" stroke="#000" stroke-width="0.25">0.0</text>
<line x1="1592.2" y1="805.3" x2="1592.2" y2="811.6" stroke="#2a2a2a" stroke-width="1.4" />
<text x="1592.2" y="832.1" font-size="20" text-anchor="middle" fill="#000" stroke="#000" stroke-width="0.25">0.2</text>
<line x1="1214.35" y1="805.3" x2="1214.35" y2="808.8" stroke="#2a2a2a" stroke-width="1.4" />
<line x1="1283.05" y1="805.3" x2="1283.05" y2="808.8" stroke="#2a2a2a" stroke-width="1.4" />
<line x1="1351.75" y1="805.3" x2="1351.75" y2="808.8" stroke="#2a2a2a" stroke-width="1.4" />
<line x1="1420.45" y1="805.3" x2="1420.45" y2="808.8" stroke="#2a2a2a" stroke-width="1.4" />
<line x1="1489.15" y1="805.3" x2="1489.15" y2="808.8" stroke="#2a2a2a" stroke-width="1.4" />
<line x1="1557.85" y1="805.3" x2="1557.85" y2="808.8" stroke="#2a2a2a" stroke-width="1.4" />
<line x1="1626.55" y1="805.3" x2="1626.55" y2="808.8" stroke="#2a2a2a" stroke-width="1.4" />
<text x="0" y="0" font-size="20" text-anchor="middle" fill="#000" stroke="#000" stroke-width="0.25" transform="translate(1169,640) rotate(-90)">Mass activity (A mg<tspan dy="-8" font-size="14">-1</tspan><tspan dy="13" font-size="14">Pt</tspan><tspan dy="-5">)</tspan></text>
<text x="1421.2" y="863.3" font-size="20" text-anchor="middle" fill="#000" stroke="#000" stroke-width="0.25">Potential (V vs. Hg/HgO)</text>
<line x1="1233.2" y1="503.8" x2="1278.7" y2="503.8" stroke="#cc2a30" stroke-width="2.6" />
<text x="1285.7" y="510.8" font-size="20" text-anchor="start" fill="#000" stroke="#000" stroke-width="0.25">Ptc/Ti<tspan dy="6" font-size="14">3</tspan><tspan dy="-6">C</tspan><tspan dy="6" font-size="14">2</tspan><tspan dy="-6">T</tspan><tspan dy="6" font-size="14">x</tspan></text>
<line x1="1233.2" y1="533.8" x2="1278.7" y2="533.8" stroke="#cc2a30" stroke-width="2.6" stroke-dasharray="11 14"/>
<text x="1285.7" y="540.8" font-size="20" text-anchor="start" fill="#000" stroke="#000" stroke-width="0.25">After 100 cycles</text>
<line x1="1233.2" y1="558.8" x2="1278.7" y2="558.8" stroke="#236ca3" stroke-width="2.6" />
<text x="1285.7" y="565.8" font-size="20" text-anchor="start" fill="#000" stroke="#000" stroke-width="0.25">Pt/C</text>
<line x1="1233.2" y1="583.8" x2="1278.7" y2="583.8" stroke="#236ca3" stroke-width="2.6" stroke-dasharray="11 14"/>
<text x="1285.7" y="590.8" font-size="20" text-anchor="start" fill="#000" stroke="#000" stroke-width="0.25">After 100 cycles</text>
<path d="M1214.3 772.11C1226.92 771.97 1272.38 771.92 1290 771.26C1307.62 770.61 1313.12 769.11 1320 768.19C1326.88 767.28 1327.52 766.96 1331.3 765.76C1335.08 764.56 1338.92 763.18 1342.7 760.99C1346.48 758.81 1350.23 756.04 1354 752.63C1357.77 749.22 1361.52 744.95 1365.3 740.56C1369.08 736.16 1372.92 731.45 1376.7 726.26C1380.48 721.08 1384.65 714.49 1388 709.43C1391.35 704.36 1394.12 700.22 1396.8 695.88C1399.48 691.54 1401.38 688.34 1404.1 683.38C1406.82 678.42 1410.08 671.74 1413.1 666.12C1416.12 660.51 1419.17 655.32 1422.2 649.71C1425.23 644.1 1428.28 638.75 1431.3 632.45C1434.32 626.15 1437.28 618.69 1440.3 611.91C1443.32 605.14 1446.52 598.59 1449.4 591.79C1452.28 585 1455 577.76 1457.6 571.15C1460.2 564.53 1462.45 558.79 1465 552.09C1467.55 545.38 1470.4 537.62 1472.9 530.91C1475.4 524.21 1477.98 516.62 1480 511.85C1482.02 507.09 1483.55 504.65 1485 502.32C1486.45 499.99 1487.37 498.32 1488.7 497.88C1490.03 497.44 1491.7 498.05 1493 499.68C1494.3 501.3 1495.47 503.82 1496.5 507.62C1497.53 511.41 1498.53 516.44 1499.2 522.44C1499.87 528.44 1500.13 533.01 1500.5 543.62C1500.87 554.22 1501.07 571.08 1501.4 586.08C1501.73 601.08 1502.03 611.22 1502.5 633.62C1502.97 656.01 1503.12 701.12 1504.2 720.44C1505.28 739.76 1505.03 743.22 1509 749.56C1512.97 755.89 1516.17 756.78 1528 758.45C1539.83 760.13 1563.62 759.25 1580 759.62C1596.38 759.99 1618.58 760.5 1626.3 760.68" fill="none" stroke="#cc2a30" stroke-width="2.4" stroke-linejoin="round" stroke-linecap="round" />
<path d="M1626.3 761.21C1618.58 761.65 1604.38 763.09 1580 763.85C1555.62 764.61 1500.67 766.04 1480 765.76C1459.33 765.48 1461.9 763.96 1456 762.16C1450.1 760.36 1447.43 758.56 1444.6 754.96C1441.77 751.36 1440.88 746.95 1439 740.56C1437.12 734.17 1435.2 724.22 1433.3 716.63C1431.4 709.04 1429.48 700.62 1427.6 695.03C1425.72 689.44 1424.27 685.76 1422 683.06C1419.73 680.36 1416.65 679.04 1414 678.83C1411.35 678.62 1408.35 679.98 1406.1 681.79C1403.85 683.61 1401.43 688.41 1400.5 689.74" fill="none" stroke="#cc2a30" stroke-width="2.4" stroke-linejoin="round" stroke-linecap="round" />
<path d="M1214.3 768.3C1231.92 768.39 1296.72 769.04 1320 768.83C1343.28 768.62 1344.55 767.93 1354 767.03C1363.45 766.13 1369.15 765.04 1376.7 763.43C1384.25 761.82 1391.75 759.6 1399.3 757.39C1406.85 755.19 1414.45 753 1422 750.19C1429.55 747.39 1437.05 744.95 1444.6 740.56C1452.15 736.16 1461.4 728.61 1467.3 723.83C1473.2 719.05 1474.55 717.11 1480 711.86C1485.45 706.62 1493.77 698.42 1500 692.38C1506.23 686.35 1511.57 680.24 1517.4 675.65C1523.23 671.06 1530.07 667.09 1535 664.85C1539.93 662.61 1543.77 661.52 1547 662.21C1550.23 662.89 1552.82 661.15 1554.4 668.98C1555.98 676.82 1555.8 693.55 1556.5 709.22C1557.2 724.89 1557.37 753.49 1558.6 763.01C1559.83 772.52 1560.33 765.55 1563.9 766.29C1567.47 767.03 1569.6 767.22 1580 767.45C1590.4 767.68 1618.58 767.63 1626.3 767.66" fill="none" stroke="#236ca3" stroke-width="2.4" stroke-linejoin="round" stroke-linecap="round" />
<path d="M1626.3 767.88C1606.38 767.61 1530.23 767.29 1506.8 766.29C1483.37 765.28 1490.17 763.48 1485.7 761.84C1481.23 760.2 1483.07 759.37 1480 756.44C1476.93 753.51 1470.93 746.7 1467.3 744.26C1463.67 741.83 1461.98 741.92 1458.2 741.83C1454.42 741.74 1448.75 742.71 1444.6 743.74C1440.45 744.76 1437.07 746.81 1433.3 747.97C1429.53 749.14 1423.88 750.26 1422 750.72" fill="none" stroke="#236ca3" stroke-width="2.4" stroke-linejoin="round" stroke-linecap="round" />
<path d="M1214.3 776C1226.92 775.5 1269.05 774.95 1290 773C1310.95 771.05 1327.52 768.52 1340 764.3C1352.48 760.08 1356.6 755.45 1364.9 747.7C1373.2 739.95 1381.48 729.15 1389.8 717.8C1398.12 706.45 1406.48 692.88 1414.8 679.6C1423.12 666.32 1431.4 652.5 1439.7 638.1C1448 623.7 1457.97 602.48 1464.6 593.2C1471.23 583.92 1475.9 583.5 1479.5 582.4C1483.1 581.3 1483.98 582.03 1486.2 586.6C1488.42 591.17 1491 597.62 1492.8 609.8C1494.6 621.98 1495.88 643.08 1497 659.7C1498.12 676.32 1498.4 695.12 1499.5 709.5C1500.6 723.88 1501.12 737.97 1503.6 746C1506.08 754.03 1508.33 755.48 1514.4 757.7C1520.47 759.92 1521.35 758.92 1540 759.3C1558.65 759.68 1611.92 759.88 1626.3 760" fill="none" stroke="#cc2a30" stroke-width="2.4" stroke-linejoin="round" stroke-linecap="round" stroke-dasharray="9 7" stroke-linecap="butt"/>
<path d="M1626.3 766C1611.92 766.13 1565.57 766.67 1540 766.8C1514.43 766.93 1487.4 767.63 1472.9 766.8C1458.4 765.97 1458.53 764.43 1453 761.8C1447.47 759.17 1443.58 755.28 1439.7 751C1435.82 746.72 1432.75 740.52 1429.7 736.1C1426.65 731.68 1425.28 727.97 1421.4 724.5C1417.52 721.03 1410.55 716.42 1406.4 715.3C1402.25 714.18 1400.37 716 1396.5 717.8C1392.63 719.6 1386.78 723.23 1383.2 726.1C1379.62 728.97 1376.37 733.52 1375 735" fill="none" stroke="#cc2a30" stroke-width="2.4" stroke-linejoin="round" stroke-linecap="round" stroke-dasharray="9 7" stroke-linecap="butt"/>
<path d="M1214.3 768.3C1235.25 768.18 1307.98 768.53 1340 767.6C1372.02 766.67 1389.78 764.9 1406.4 762.7C1423.02 760.5 1430 758 1439.7 754.4C1449.4 750.8 1457.68 744.98 1464.6 741.1C1471.52 737.22 1475.67 731.93 1481.2 731.1C1486.73 730.27 1493.1 733.05 1497.8 736.1C1502.5 739.15 1505.52 745.25 1509.4 749.4C1513.28 753.55 1516 758.23 1521.1 761C1526.2 763.77 1522.47 765 1540 766C1557.53 767 1611.92 766.83 1626.3 767" fill="none" stroke="#236ca3" stroke-width="2.4" stroke-linejoin="round" stroke-linecap="round" stroke-dasharray="9 7" stroke-linecap="butt"/>
<path d="M1626.3 767.5C1604.42 767.42 1519.05 767.75 1495 767C1470.95 766.25 1485.83 765.5 1482 763C1478.17 760.5 1475.17 755.75 1472 752C1468.83 748.25 1465.83 742.17 1463 740.5C1460.17 738.83 1458 740.42 1455 742C1452 743.58 1449.17 747.5 1445 750C1440.83 752.5 1435.83 755 1430 757C1424.17 759 1416.67 760.67 1410 762C1403.33 763.33 1393.33 764.5 1390 765" fill="none" stroke="#236ca3" stroke-width="2.4" stroke-linejoin="round" stroke-linecap="round" stroke-dasharray="9 7" stroke-linecap="butt"/>
<text x="19" y="928.3" font-size="46" text-anchor="start" fill="#000" stroke="#000" stroke-width="0.25">f</text>
<rect x="113.3" y="912.2" width="961" height="331.1" fill="none" stroke="#2a2a2a" stroke-width="1.4"/>
<line x1="107" y1="946.48" x2="113.3" y2="946.48" stroke="#2a2a2a" stroke-width="1.4" />
<text x="101.3" y="952.98" font-size="20" text-anchor="end" fill="#000" stroke="#000" stroke-width="0.25">45</text>
<line x1="107" y1="1045.42" x2="113.3" y2="1045.42" stroke="#2a2a2a" stroke-width="1.4" />
<text x="101.3" y="1051.92" font-size="20" text-anchor="end" fill="#000" stroke="#000" stroke-width="0.25">30</text>
<line x1="107" y1="1144.36" x2="113.3" y2="1144.36" stroke="#2a2a2a" stroke-width="1.4" />
<text x="101.3" y="1150.86" font-size="20" text-anchor="end" fill="#000" stroke="#000" stroke-width="0.25">15</text>
<line x1="107" y1="1243.3" x2="113.3" y2="1243.3" stroke="#2a2a2a" stroke-width="1.4" />
<text x="101.3" y="1249.8" font-size="20" text-anchor="end" fill="#000" stroke="#000" stroke-width="0.25">0</text>
<line x1="109.8" y1="995.95" x2="113.3" y2="995.95" stroke="#2a2a2a" stroke-width="1.4" />
<line x1="109.8" y1="1094.89" x2="113.3" y2="1094.89" stroke="#2a2a2a" stroke-width="1.4" />
<line x1="109.8" y1="1193.83" x2="113.3" y2="1193.83" stroke="#2a2a2a" stroke-width="1.4" />
<line x1="113.3" y1="1243.3" x2="113.3" y2="1249.6" stroke="#2a2a2a" stroke-width="1.4" />
<text x="113.3" y="1270.1" font-size="20" text-anchor="middle" fill="#000" stroke="#000" stroke-width="0.25">0</text>
<line x1="273.3" y1="1243.3" x2="273.3" y2="1249.6" stroke="#2a2a2a" stroke-width="1.4" />
<text x="273.3" y="1270.1" font-size="20" text-anchor="middle" fill="#000" stroke="#000" stroke-width="0.25">500</text>
<line x1="433.3" y1="1243.3" x2="433.3" y2="1249.6" stroke="#2a2a2a" stroke-width="1.4" />
<text x="433.3" y="1270.1" font-size="20" text-anchor="middle" fill="#000" stroke="#000" stroke-width="0.25">1000</text>
<line x1="593.3" y1="1243.3" x2="593.3" y2="1249.6" stroke="#2a2a2a" stroke-width="1.4" />
<text x="593.3" y="1270.1" font-size="20" text-anchor="middle" fill="#000" stroke="#000" stroke-width="0.25">1500</text>
<line x1="753.3" y1="1243.3" x2="753.3" y2="1249.6" stroke="#2a2a2a" stroke-width="1.4" />
<text x="753.3" y="1270.1" font-size="20" text-anchor="middle" fill="#000" stroke="#000" stroke-width="0.25">2000</text>
<line x1="913.3" y1="1243.3" x2="913.3" y2="1249.6" stroke="#2a2a2a" stroke-width="1.4" />
<text x="913.3" y="1270.1" font-size="20" text-anchor="middle" fill="#000" stroke="#000" stroke-width="0.25">2500</text>
<line x1="1073.3" y1="1243.3" x2="1073.3" y2="1249.6" stroke="#2a2a2a" stroke-width="1.4" />
<text x="1073.3" y="1270.1" font-size="20" text-anchor="middle" fill="#000" stroke="#000" stroke-width="0.25">3000</text>
<line x1="193.3" y1="1243.3" x2="193.3" y2="1246.8" stroke="#2a2a2a" stroke-width="1.4" />
<line x1="353.3" y1="1243.3" x2="353.3" y2="1246.8" stroke="#2a2a2a" stroke-width="1.4" />
<line x1="513.3" y1="1243.3" x2="513.3" y2="1246.8" stroke="#2a2a2a" stroke-width="1.4" />
<line x1="673.3" y1="1243.3" x2="673.3" y2="1246.8" stroke="#2a2a2a" stroke-width="1.4" />
<line x1="833.3" y1="1243.3" x2="833.3" y2="1246.8" stroke="#2a2a2a" stroke-width="1.4" />
<line x1="993.3" y1="1243.3" x2="993.3" y2="1246.8" stroke="#2a2a2a" stroke-width="1.4" />
<text x="0" y="0" font-size="20" text-anchor="middle" fill="#000" stroke="#000" stroke-width="0.25" transform="translate(60,1067) rotate(-90)">Current density (mA cm<tspan dy="-8" font-size="14">-2</tspan><tspan dy="8">)</tspan></text>
<text x="593" y="1305" font-size="20" text-anchor="middle" fill="#000" stroke="#000" stroke-width="0.25">Time (min)</text>
<line x1="654.2" y1="938.7" x2="698.8" y2="938.7" stroke="#cc2a30" stroke-width="2.6" />
<text x="705.8" y="945.3" font-size="20" text-anchor="start" fill="#000" stroke="#000" stroke-width="0.25">Ptc/Ti<tspan dy="6" font-size="14">3</tspan><tspan dy="-6">C</tspan><tspan dy="6" font-size="14">2</tspan><tspan dy="-6">T</tspan><tspan dy="6" font-size="14">x</tspan></text>
<line x1="654.2" y1="967.8" x2="698.8" y2="967.8" stroke="#236ca3" stroke-width="2.6" />
<text x="705.8" y="975" font-size="20" text-anchor="start" fill="#000" stroke="#000" stroke-width="0.25">Pt/C</text>
<path d="M113.3 1033C113.58 1032.78 114.17 1033.32 115 1031.7C115.83 1030.08 116.35 1024.42 118.3 1023.3C120.25 1022.18 123.08 1023.33 126.7 1025C130.32 1026.67 135.57 1029.68 140 1033.3C144.43 1036.92 147.75 1041.97 153.3 1046.7C158.85 1051.43 166.07 1057.27 173.3 1061.7C180.53 1066.13 187.8 1069.7 196.7 1073.3C205.6 1076.9 217.82 1080.52 226.7 1083.3C235.58 1086.08 242.23 1088.05 250 1090C257.77 1091.95 264.97 1093.22 273.3 1095C281.63 1096.78 295.55 1099.75 300 1100.7 L302 1101.3 L302 1117 L302 1101.3 L322 1102.7 L322 1111.5 L322 1102.7 L322 1102.7C322.5 1101.42 322.55 1096.12 325 1095C327.45 1093.88 329.75 1094.33 336.7 1096C343.65 1097.67 353.37 1102.12 366.7 1105C380.03 1107.88 400.03 1110.8 416.7 1113.3C433.37 1115.8 447.82 1118.33 466.7 1120C485.58 1121.67 508.33 1121.63 530 1123.3C551.67 1124.97 577.25 1127.1 596.7 1130C616.15 1132.9 627.27 1137.65 646.7 1140.7C666.13 1143.75 691.08 1146.3 713.3 1148.3C735.52 1150.3 763.33 1152.13 780 1152.7C796.67 1153.27 799.42 1152.53 813.3 1151.7C827.18 1150.87 843.85 1148.65 863.3 1147.7C882.75 1146.75 910.55 1145.9 930 1146C949.45 1146.1 963.33 1147.35 980 1148.3C996.67 1149.25 1014.45 1150.58 1030 1151.7C1045.55 1152.82 1066.08 1154.45 1073.3 1155" fill="none" stroke="#cc2a30" stroke-width="2.8" stroke-linejoin="round" stroke-linecap="round" />
<path d="M113.5 912.5C113.6 920.22 113.9 944.55 114.1 958.8C114.3 973.05 114.43 986.88 114.7 998C114.97 1009.12 115.22 1015.68 115.7 1025.5C116.18 1035.32 116.62 1046.77 117.6 1056.9C118.58 1067.03 120.12 1077.15 121.6 1086.3C123.08 1095.45 124.87 1103.63 126.5 1111.8C128.13 1119.97 129.93 1129.1 131.4 1135.3C132.87 1141.5 134.65 1146.72 135.3 1149" fill="none" stroke="#236ca3" stroke-width="3.4" stroke-linejoin="round" stroke-linecap="round" />
<text x="1116" y="928" font-size="46" text-anchor="start" fill="#000" stroke="#000" stroke-width="0.25">g</text>
<rect x="1214" y="915.3" width="412.3" height="331.4" fill="none" stroke="#2a2a2a" stroke-width="1.4"/>
<line x1="1207.7" y1="1246.7" x2="1214" y2="1246.7" stroke="#2a2a2a" stroke-width="1.4" />
<text x="1202" y="1253.2" font-size="20" text-anchor="end" fill="#000" stroke="#000" stroke-width="0.25">0.0</text>
<line x1="1207.7" y1="1199.37" x2="1214" y2="1199.37" stroke="#2a2a2a" stroke-width="1.4" />
<text x="1202" y="1205.87" font-size="20" text-anchor="end" fill="#000" stroke="#000" stroke-width="0.25">0.1</text>
<line x1="1207.7" y1="1152.04" x2="1214" y2="1152.04" stroke="#2a2a2a" stroke-width="1.4" />
<text x="1202" y="1158.54" font-size="20" text-anchor="end" fill="#000" stroke="#000" stroke-width="0.25">0.2</text>
<line x1="1207.7" y1="1104.71" x2="1214" y2="1104.71" stroke="#2a2a2a" stroke-width="1.4" />
<text x="1202" y="1111.21" font-size="20" text-anchor="end" fill="#000" stroke="#000" stroke-width="0.25">0.3</text>
<line x1="1207.7" y1="1057.38" x2="1214" y2="1057.38" stroke="#2a2a2a" stroke-width="1.4" />
<text x="1202" y="1063.88" font-size="20" text-anchor="end" fill="#000" stroke="#000" stroke-width="0.25">0.4</text>
<line x1="1207.7" y1="1010.05" x2="1214" y2="1010.05" stroke="#2a2a2a" stroke-width="1.4" />
<text x="1202" y="1016.55" font-size="20" text-anchor="end" fill="#000" stroke="#000" stroke-width="0.25">0.5</text>
<line x1="1207.7" y1="962.72" x2="1214" y2="962.72" stroke="#2a2a2a" stroke-width="1.4" />
<text x="1202" y="969.22" font-size="20" text-anchor="end" fill="#000" stroke="#000" stroke-width="0.25">0.6</text>
<line x1="1207.7" y1="915.39" x2="1214" y2="915.39" stroke="#2a2a2a" stroke-width="1.4" />
<text x="1202" y="921.89" font-size="20" text-anchor="end" fill="#000" stroke="#000" stroke-width="0.25">0.7</text>
<line x1="1210.5" y1="1223.04" x2="1214" y2="1223.04" stroke="#2a2a2a" stroke-width="1.4" />
<line x1="1210.5" y1="1175.7" x2="1214" y2="1175.7" stroke="#2a2a2a" stroke-width="1.4" />
<line x1="1210.5" y1="1128.38" x2="1214" y2="1128.38" stroke="#2a2a2a" stroke-width="1.4" />
<line x1="1210.5" y1="1081.05" x2="1214" y2="1081.05" stroke="#2a2a2a" stroke-width="1.4" />
<line x1="1210.5" y1="1033.72" x2="1214" y2="1033.72" stroke="#2a2a2a" stroke-width="1.4" />
<line x1="1210.5" y1="986.38" x2="1214" y2="986.38" stroke="#2a2a2a" stroke-width="1.4" />
<line x1="1210.5" y1="939.06" x2="1214" y2="939.06" stroke="#2a2a2a" stroke-width="1.4" />
<line x1="1214" y1="1246.7" x2="1214" y2="1253" stroke="#2a2a2a" stroke-width="1.4" />
<text x="1214" y="1273.5" font-size="20" text-anchor="middle" fill="#000" stroke="#000" stroke-width="0.25">0</text>
<line x1="1288.84" y1="1246.7" x2="1288.84" y2="1253" stroke="#2a2a2a" stroke-width="1.4" />
<text x="1288.84" y="1273.5" font-size="20" text-anchor="middle" fill="#000" stroke="#000" stroke-width="0.25">20</text>
<line x1="1363.68" y1="1246.7" x2="1363.68" y2="1253" stroke="#2a2a2a" stroke-width="1.4" />
<text x="1363.68" y="1273.5" font-size="20" text-anchor="middle" fill="#000" stroke="#000" stroke-width="0.25">40</text>
<line x1="1438.52" y1="1246.7" x2="1438.52" y2="1253" stroke="#2a2a2a" stroke-width="1.4" />
<text x="1438.52" y="1273.5" font-size="20" text-anchor="middle" fill="#000" stroke="#000" stroke-width="0.25">60</text>
<line x1="1513.36" y1="1246.7" x2="1513.36" y2="1253" stroke="#2a2a2a" stroke-width="1.4" />
<text x="1513.36" y="1273.5" font-size="20" text-anchor="middle" fill="#000" stroke="#000" stroke-width="0.25">80</text>
<line x1="1588.2" y1="1246.7" x2="1588.2" y2="1253" stroke="#2a2a2a" stroke-width="1.4" />
<text x="1588.2" y="1273.5" font-size="20" text-anchor="middle" fill="#000" stroke="#000" stroke-width="0.25">100</text>
<line x1="1251.42" y1="1246.7" x2="1251.42" y2="1250.2" stroke="#2a2a2a" stroke-width="1.4" />
<line x1="1326.26" y1="1246.7" x2="1326.26" y2="1250.2" stroke="#2a2a2a" stroke-width="1.4" />
<line x1="1401.1" y1="1246.7" x2="1401.1" y2="1250.2" stroke="#2a2a2a" stroke-width="1.4" />
<line x1="1475.94" y1="1246.7" x2="1475.94" y2="1250.2" stroke="#2a2a2a" stroke-width="1.4" />
<line x1="1550.78" y1="1246.7" x2="1550.78" y2="1250.2" stroke="#2a2a2a" stroke-width="1.4" />
<line x1="1625.62" y1="1246.7" x2="1625.62" y2="1250.2" stroke="#2a2a2a" stroke-width="1.4" />
<text x="0" y="0" font-size="20" text-anchor="middle" fill="#000" stroke="#000" stroke-width="0.25" transform="translate(1162,1080) rotate(-90)">Current density (mA cm<tspan dy="-8" font-size="14">−2</tspan><tspan dy="8">)</tspan></text>
<text x="1420" y="1308" font-size="20" text-anchor="middle" fill="#000" stroke="#000" stroke-width="0.25">Scan rate (mV s<tspan dy="-8" font-size="14">−1</tspan><tspan dy="8">)</tspan></text>
<line x1="1251.42" y1="1192.27" x2="1588.2" y2="938.58" stroke="#cc2a30" stroke-width="2" />
<line x1="1251.42" y1="1221.62" x2="1588.2" y2="1024.25" stroke="#236ca3" stroke-width="2" />
<defs><radialGradient id="gr" cx="35%" cy="30%" r="70%"><stop offset="0" stop-color="#ffd0d0"/><stop offset="0.35" stop-color="#ee2222"/><stop offset="1" stop-color="#b50000"/></radialGradient><radialGradient id="gb" cx="35%" cy="30%" r="70%"><stop offset="0" stop-color="#d0ecff"/><stop offset="0.35" stop-color="#2a85c8"/><stop offset="1" stop-color="#0d4f86"/></radialGradient></defs>
<circle cx="1251.42" cy="1202.68" r="5.8" fill="url(#gr)"/>
<circle cx="1251.42" cy="1221.62" r="5.8" fill="url(#gb)"/>
<circle cx="1288.84" cy="1165.77" r="5.8" fill="url(#gr)"/>
<circle cx="1288.84" cy="1198.42" r="5.8" fill="url(#gb)"/>
<circle cx="1326.26" cy="1133.58" r="5.8" fill="url(#gr)"/>
<circle cx="1326.26" cy="1176.18" r="5.8" fill="url(#gb)"/>
<circle cx="1363.68" cy="1103.76" r="5.8" fill="url(#gr)"/>
<circle cx="1363.68" cy="1153.93" r="5.8" fill="url(#gb)"/>
<circle cx="1401.1" cy="1073.95" r="5.8" fill="url(#gr)"/>
<circle cx="1401.1" cy="1131.69" r="5.8" fill="url(#gb)"/>
<circle cx="1438.52" cy="1046.49" r="5.8" fill="url(#gr)"/>
<circle cx="1438.52" cy="1109.44" r="5.8" fill="url(#gb)"/>
<circle cx="1475.94" cy="1019.04" r="5.8" fill="url(#gr)"/>
<circle cx="1475.94" cy="1086.72" r="5.8" fill="url(#gb)"/>
<circle cx="1513.36" cy="994.43" r="5.8" fill="url(#gr)"/>
<circle cx="1513.36" cy="1066.37" r="5.8" fill="url(#gb)"/>
<circle cx="1550.78" cy="967.93" r="5.8" fill="url(#gr)"/>
<circle cx="1550.78" cy="1046.02" r="5.8" fill="url(#gb)"/>
<circle cx="1588.2" cy="945.68" r="5.8" fill="url(#gr)"/>
<circle cx="1588.2" cy="1024.25" r="5.8" fill="url(#gb)"/>
<circle cx="1253.7" cy="945.5" r="5.8" fill="url(#gr)"/>
<circle cx="1253.7" cy="975.3" r="5.8" fill="url(#gb)"/>
<text x="1283.2" y="952.5" font-size="20" text-anchor="start" fill="#000" stroke="#000" stroke-width="0.25">Ptc/Ti<tspan dy="6" font-size="14">3</tspan><tspan dy="-6">C</tspan><tspan dy="6" font-size="14">2</tspan><tspan dy="-6">T</tspan><tspan dy="6" font-size="14">x</tspan></text>
<text x="1283.2" y="982.3" font-size="20" text-anchor="start" fill="#000" stroke="#000" stroke-width="0.25">Ti<tspan dy="6" font-size="14">3</tspan><tspan dy="-6">C</tspan><tspan dy="6" font-size="14">2</tspan><tspan dy="-6">T</tspan><tspan dy="6" font-size="14">x</tspan></text>
<text x="1470" y="1173.3" font-size="20" text-anchor="start" fill="#d62a2e" stroke="#d62a2e" stroke-width="0.25">5.98 mF cm<tspan dy="-8" font-size="14">−1</tspan></text>
<text x="1470" y="1200.8" font-size="20" text-anchor="start" fill="#2a7ab0" stroke="#2a7ab0" stroke-width="0.25">4.64 mF cm<tspan dy="-8" font-size="14">−1</tspan></text>
<g fill="none" stroke-linecap="butt" stroke-linejoin="miter">
<path d="M1314.5 1236.5 L1308.5 1248.5 M1310.5 1244.5 L1328.5 1244.5 M1305.5 1255.5 L1330.5 1255.5 M1318.5 1244.5 L1318.5 1259.5 L1307.5 1279.5 M1319.5 1262.5 L1329.5 1277.5 M1334.5 1245.5 L1334.5 1276.5 M1334.5 1246.5 L1350.5 1246.5 M1350.5 1246.5 L1350.5 1276.5 M1334.5 1275.5 L1350.5 1275.5 M1402 1236.5 L1368 1240.5 M1371 1246.5 L1375 1253.5 M1394 1245.5 L1389 1253.5 M1362 1258.5 L1406 1258.5 M1384 1240.5 L1384 1278.5 L1376 1276.5 M1494.5 1236 L1494.5 1278 L1487.5 1276 M1486.5 1250 L1476.5 1268 M1503.5 1249 L1514.5 1266 M1527.5 1247 L1531.5 1258 M1559.5 1244 L1554.5 1256 M1543.5 1236 L1543.5 1253 L1539.5 1266 L1522.5 1278 M1544.5 1256 L1552.5 1270 L1565.5 1278 M1577.5 1237 L1573.5 1245 M1575.5 1241 L1588.5 1241 M1581.5 1242 L1583.5 1248 M1596.5 1237 L1592.5 1245 M1594.5 1241 L1611.5 1241 M1602.5 1242 L1604.5 1248 M1571.5 1253 L1613.5 1253 M1582.5 1248 L1585.5 1252 M1601.5 1248 L1598.5 1252 M1575.5 1259 L1575.5 1279 M1575.5 1259 L1587.5 1259 L1587.5 1278 L1584.5 1277 M1575.5 1266 L1587.5 1266 M1575.5 1272 L1587.5 1272 M1597.5 1260 L1597.5 1274 M1607.5 1258 L1607.5 1279 L1603.5 1278 M1466 1252 A19.5 20 0 1 0 1458 1273.5 M1455 1248 A7 8 0 1 0 1455 1262 M1459 1246 L1456 1266 Q1460 1268 1465 1262" stroke="#fff" stroke-width="7.5"/>
<path d="M1314.5 1236.5 L1308.5 1248.5 M1310.5 1244.5 L1328.5 1244.5 M1305.5 1255.5 L1330.5 1255.5 M1318.5 1244.5 L1318.5 1259.5 L1307.5 1279.5 M1319.5 1262.5 L1329.5 1277.5 M1334.5 1245.5 L1334.5 1276.5 M1334.5 1246.5 L1350.5 1246.5 M1350.5 1246.5 L1350.5 1276.5 M1334.5 1275.5 L1350.5 1275.5 M1402 1236.5 L1368 1240.5 M1371 1246.5 L1375 1253.5 M1394 1245.5 L1389 1253.5 M1362 1258.5 L1406 1258.5 M1384 1240.5 L1384 1278.5 L1376 1276.5 M1494.5 1236 L1494.5 1278 L1487.5 1276 M1486.5 1250 L1476.5 1268 M1503.5 1249 L1514.5 1266 M1527.5 1247 L1531.5 1258 M1559.5 1244 L1554.5 1256 M1543.5 1236 L1543.5 1253 L1539.5 1266 L1522.5 1278 M1544.5 1256 L1552.5 1270 L1565.5 1278 M1577.5 1237 L1573.5 1245 M1575.5 1241 L1588.5 1241 M1581.5 1242 L1583.5 1248 M1596.5 1237 L1592.5 1245 M1594.5 1241 L1611.5 1241 M1602.5 1242 L1604.5 1248 M1571.5 1253 L1613.5 1253 M1582.5 1248 L1585.5 1252 M1601.5 1248 L1598.5 1252 M1575.5 1259 L1575.5 1279 M1575.5 1259 L1587.5 1259 L1587.5 1278 L1584.5 1277 M1575.5 1266 L1587.5 1266 M1575.5 1272 L1587.5 1272 M1597.5 1260 L1597.5 1274 M1607.5 1258 L1607.5 1279 L1603.5 1278 M1466 1252 A19.5 20 0 1 0 1458 1273.5 M1455 1248 A7 8 0 1 0 1455 1262 M1459 1246 L1456 1266 Q1460 1268 1465 1262" stroke="#b6b6b6" stroke-width="4.6"/>
</g>
<line x1="1214" y1="1246.7" x2="1626.3" y2="1246.7" stroke="#2a2a2a" stroke-width="1.4" stroke-dasharray="14 6" opacity="0.9"/></svg></body></html>
